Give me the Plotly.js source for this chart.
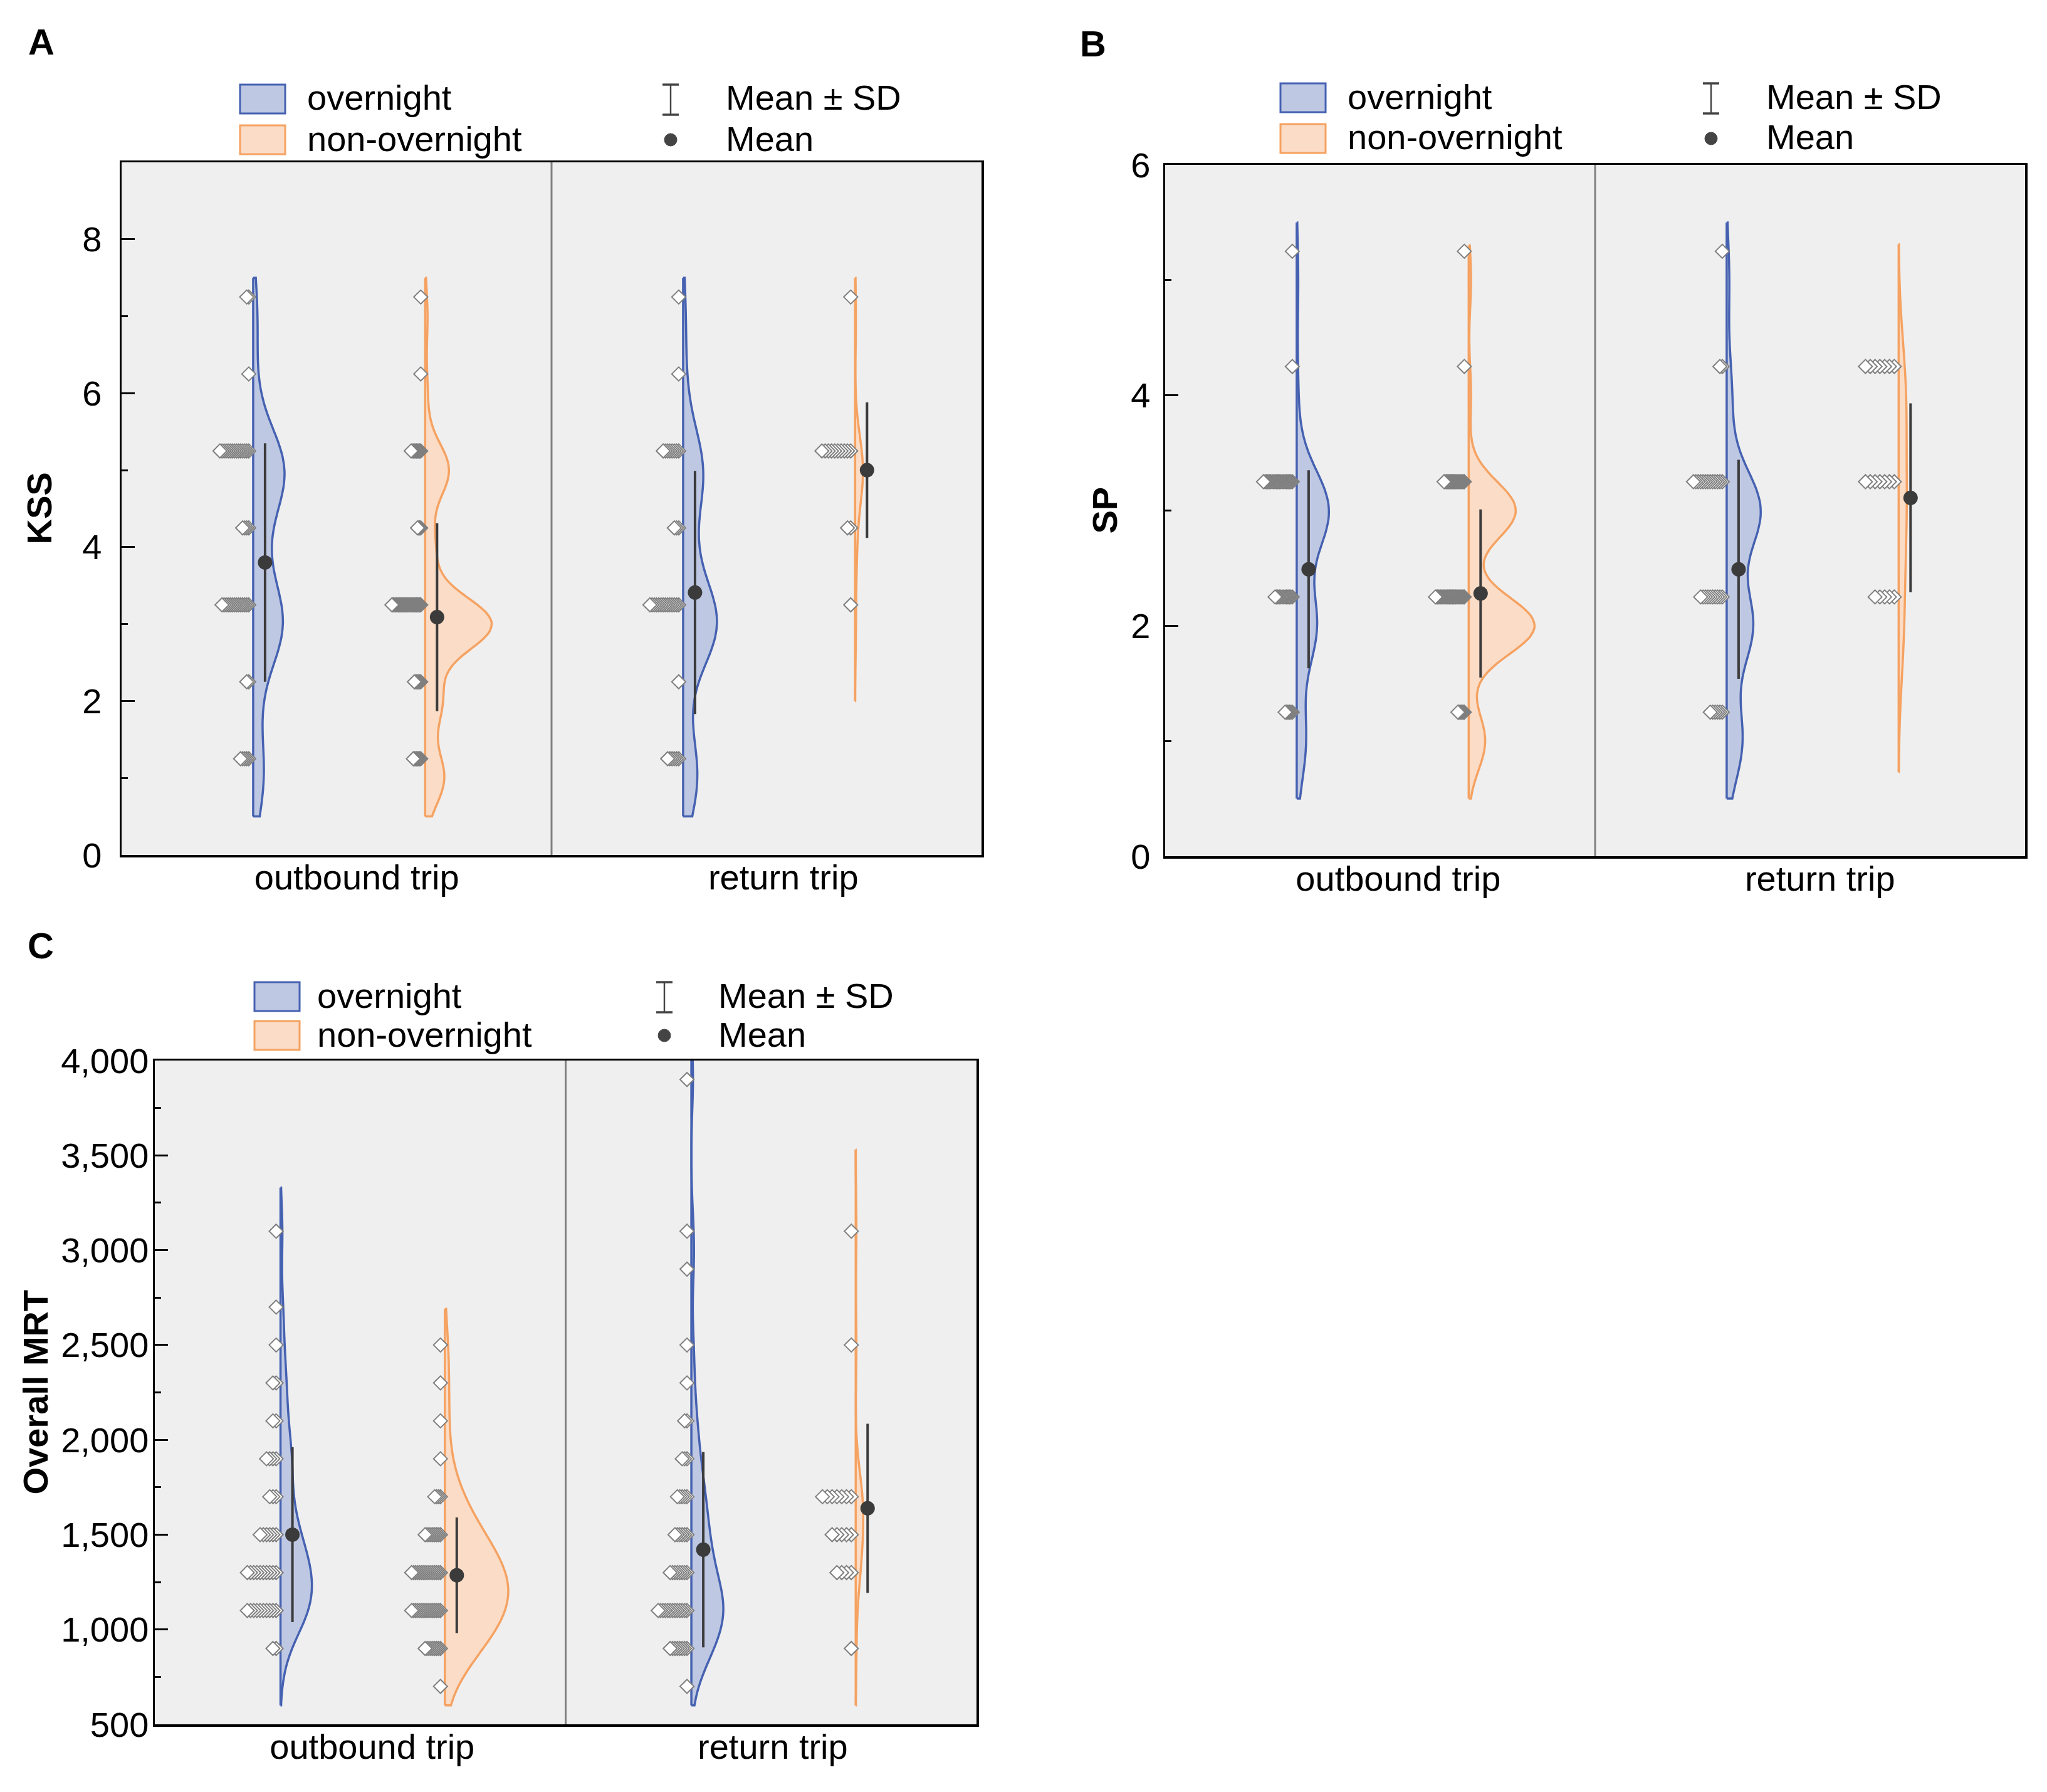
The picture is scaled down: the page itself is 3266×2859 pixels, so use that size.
<!DOCTYPE html>
<html>
<head>
<meta charset="utf-8">
<script src="https://cdn.plot.ly/plotly-3.0.1.min.js"></script>
<style>
html, body { margin:0; padding:0; background:#ffffff; }
#chart { width:3266px; height:2859px; }
</style>
</head>
<body>
<div id="chart"></div>
<script>
// ================= DATA =================
const tripLabels = ['outbound trip', 'return trip'];
const groupLabels = ['overnight', 'non-overnight'];
// cell order in every panel: overnight outbound, non-overnight outbound, overnight return, non-overnight return

// KSS
const kssScores = [1, 2, 3, 4, 5, 6, 7];
const kssBinCenters = [1.25, 2.25, 3.25, 4.25, 5.25, 6.25, 7.25];
const kssOvernightOutbound = [5, 2, 14, 4, 15, 1, 2];
const kssNonOvernightOutbound = [8, 7, 28, 4, 10, 1, 1];
const kssOvernightReturn = [6, 1, 14, 3, 8, 1, 1];
const kssNonOvernightReturn = [0, 0, 1, 2, 10, 0, 1];
const kssMeans = [3.80, 3.09, 3.41, 5.00];
const kssSDs = [1.55, 1.22, 1.58, 0.88];
const kssKdeLow = [0.5, 0.5, 0.5, 2.0];
const kssKdeHigh = [7.5, 7.5, 7.5, 7.5];

// SP
const spScores = [1, 2, 3, 4, 5];
const spBinCenters = [1.25, 2.25, 3.25, 4.25, 5.25];
const spOvernightOutbound = [6, 13, 21, 1, 1];
const spNonOvernightOutbound = [7, 28, 20, 1, 1];
const spOvernightReturn = [6, 10, 13, 2, 1];
const spNonOvernightReturn = [0, 5, 7, 7, 0];
const spMeans = [2.49, 2.28, 2.49, 3.11];
const spSDs = [0.86, 0.73, 0.95, 0.82];
const spKdeLow = [0.5, 0.5, 0.5, 0.73];
const spKdeHigh = [5.5, 5.3, 5.5, 5.31];

// Overall MRT
const mrtBins = [700, 900, 1100, 1300, 1500, 1700, 1900, 2100, 2300, 2500, 2700, 2900, 3100, 3300, 3500, 3700, 3900];
const mrtOvernightOutbound    = [0, 2, 10, 10, 6, 3, 4, 2, 2, 1, 1, 0, 1, 0, 0, 0, 0];
const mrtNonOvernightOutbound = [1, 9, 16, 16, 9, 4, 1, 1, 1, 1, 0, 0, 0, 0, 0, 0, 0];
const mrtOvernightReturn      = [1, 8, 13, 8, 6, 5, 3, 2, 1, 1, 0, 1, 1, 0, 0, 0, 1];
const mrtNonOvernightReturn   = [0, 1, 0, 4, 5, 7, 0, 0, 0, 1, 0, 0, 1, 0, 0, 0, 0];
const mrtMeans = [1500, 1286, 1421, 1639];
const mrtSDs = [461, 305, 515, 446];
const mrtKdeLow = [600, 600, 600, 600];
const mrtKdeHigh = [3330, 2690, 4300, 3530];

// ================= STYLE =================
const FIG_W = 3266, FIG_H = 2859;
const FONT = '"Liberation Sans", Arial, Helvetica, sans-serif';
const LINE_COL = ['#4561b1', '#f5a262'];
const FILL_COL = ['#bfc8e2', '#fbdcc6'];
const POINT_LINE = '#7f7f7f';
const MEAN_COL = '#3b3b3b';
const CAT_CENTERS = [0.5, 1.5];
const GROUP_OFFSETS = [-0.194, 0.206];
const STACK_START_PX = 7;
const STACK_SPAN_PX = 46;
const MEAN_OFFSET_PX = 19;

const panels = [
  { letter:'A', yTitle:'KSS', left:194, right:1566, top:259, bottom:1364,
    yRange:[0, 9], dtick:2, minorDtick:1, sepThousands:false,
    scores:kssScores, bins:kssBinCenters,
    counts:[kssOvernightOutbound, kssNonOvernightOutbound, kssOvernightReturn, kssNonOvernightReturn],
    means:kssMeans, sds:kssSDs, kdeLow:kssKdeLow, kdeHigh:kssKdeHigh,
    bandwidth:[0.55, 0.35, 0.55, 0.45], halfWidthPx:[50, 106, 54, 12.5],
    tickvals:[0.547, 1.539], labelStandoff:17, titleX:62, letterXY:[66, 66],
    legend:{patchX:383, textX:488, iconX:1070, text2X:1156, row1Y:156, row2Y:221} },
  { letter:'B', yTitle:'SP', left:1859, right:3231, top:263, bottom:1366,
    yRange:[0, 6], dtick:2, minorDtick:1, sepThousands:false,
    scores:spScores, bins:spBinCenters,
    counts:[spOvernightOutbound, spNonOvernightOutbound, spOvernightReturn, spNonOvernightReturn],
    means:spMeans, sds:spSDs, kdeLow:spKdeLow, kdeHigh:spKdeHigh,
    bandwidth:[0.35, 0.25, 0.35, 0.5], halfWidthPx:[51, 105, 54, 13],
    tickvals:[0.542, 1.523], labelStandoff:9, titleX:1762, letterXY:[1744, 69],
    legend:{patchX:2043, textX:2148, iconX:2730, text2X:2816, row1Y:154, row2Y:219} },
  { letter:'C', yTitle:'Overall MRT', left:247, right:1558, top:1692, bottom:2751,
    yRange:[500, 4000], dtick:500, minorDtick:250, sepThousands:true,
    scores:mrtBins, bins:mrtBins,
    counts:[mrtOvernightOutbound, mrtNonOvernightOutbound, mrtOvernightReturn, mrtNonOvernightReturn],
    means:mrtMeans, sds:mrtSDs, kdeLow:mrtKdeLow, kdeHigh:mrtKdeHigh,
    bandwidth:[150, 170, 150, 170], halfWidthPx:[50, 101, 51, 12],
    tickvals:[0.529, 1.504], labelStandoff:-5, titleX:56, letterXY:[65, 1508],
    legend:{patchX:406, textX:504, iconX:1060, text2X:1144, row1Y:1588, row2Y:1650} }
];

// ================= BUILD =================
const px2x = v => v / FIG_W;
const px2y = v => 1 - v / FIG_H;

function expand(values, counts) {
  const out = [];
  values.forEach((v, i) => { for (let k = 0; k < counts[i]; k++) out.push(v); });
  return out;
}

const traces = [];
const shapes = [];
const annotations = [];
const layout = {
  width: FIG_W, height: FIG_H,
  margin: { l:0, r:0, t:0, b:0 },
  paper_bgcolor: '#ffffff',
  plot_bgcolor: '#efefef',
  showlegend: false,
  violinmode: 'overlay',
  font: { family: FONT, size: 56, color: '#000000' },
  hovermode: false
};

panels.forEach((p, pi) => {
  const sfx = pi === 0 ? '' : String(pi + 1);
  const xa = 'x' + sfx, ya = 'y' + sfx;
  const pxPerUnit = (p.right - p.left) / 2;

  layout['xaxis' + sfx] = {
    domain: [px2x(p.left), px2x(p.right)], range: [0, 2], anchor: ya,
    showgrid: false, zeroline: false, ticks: '',
    tickvals: p.tickvals, ticktext: tripLabels,
    tickfont: { size: 56, family: FONT, color: '#000' },
    ticklabelstandoff: -16,
    showline: true, mirror: true, linecolor: '#000', linewidth: 3.5, fixedrange: true
  };
  layout['yaxis' + sfx] = {
    domain: [px2y(p.bottom), px2y(p.top)], range: p.yRange, anchor: xa,
    showgrid: false, zeroline: false,
    ticks: 'inside', ticklen: 21, tickwidth: 3, tickcolor: '#000',
    tick0: 0, dtick: p.dtick,
    minor: { ticks: 'inside', ticklen: 10, tickwidth: 3, tickcolor: '#000', tick0: 0, dtick: p.minorDtick, showgrid: false },
    tickfont: { size: 56, family: FONT, color: '#000' },
    ticklabelstandoff: p.labelStandoff,
    separatethousands: p.sepThousands,
    showline: true, mirror: true, linecolor: '#000', linewidth: 3.5, fixedrange: true
  };

  // divider between trips
  shapes.push({ type:'line', xref: xa, yref: ya + ' domain', x0: 1, x1: 1, y0: 0, y1: 1,
                line: { color: '#808080', width: 3 } });

  const meanX = [];
  for (let c = 0; c < 4; c++) {
    const trip = Math.floor(c / 2), grp = c % 2;
    const base = CAT_CENTERS[trip] + GROUP_OFFSETS[grp];
    const counts = p.counts[c];

    // half violin (KDE computed by plotly)
    traces.push({
      type: 'violin', xaxis: xa, yaxis: ya, name: groupLabels[grp] + ' ' + tripLabels[trip],
      x0: base, y: expand(p.scores, counts), orientation: 'v', side: 'positive',
      width: 2 * p.halfWidthPx[c] / pxPerUnit, scalemode: 'width', scalegroup: p.letter + c,
      spanmode: 'manual', span: [p.kdeLow[c], p.kdeHigh[c]], bandwidth: p.bandwidth[c],
      points: false, box: { visible: false }, meanline: { visible: false },
      line: { color: LINE_COL[grp], width: 3.5 }, fillcolor: FILL_COL[grp],
      hoverinfo: 'skip', showlegend: false
    });
    // base line of the half violin
    traces.push({
      type: 'scatter', mode: 'lines', xaxis: xa, yaxis: ya,
      x: [base, base], y: [p.kdeLow[c], p.kdeHigh[c]],
      line: { color: LINE_COL[grp], width: 3.5 }, hoverinfo: 'skip', showlegend: false
    });
    meanX.push(base + MEAN_OFFSET_PX / pxPerUnit);
  }

  // stacked data points (binned), leftmost drawn last
  for (let c = 0; c < 4; c++) {
    const trip = Math.floor(c / 2), grp = c % 2;
    const base = CAT_CENTERS[trip] + GROUP_OFFSETS[grp];
    const counts = p.counts[c];
    const nMax = Math.max(...counts);
    const step = nMax > 1 ? STACK_SPAN_PX / (nMax - 1) : 0;
    const xs = [], ys = [];
    p.bins.forEach((b, i) => {
      for (let k = 0; k < counts[i]; k++) {
        xs.push(base - (STACK_START_PX + k * step) / pxPerUnit);
        ys.push(b);
      }
    });
    traces.push({
      type: 'scatter', mode: 'markers', xaxis: xa, yaxis: ya, x: xs, y: ys,
      marker: { symbol: 'diamond', size: 17, color: '#ffffff', line: { color: POINT_LINE, width: 2 } },
      hoverinfo: 'skip', showlegend: false
    });
  }

  // mean ± SD
  traces.push({
    type: 'scatter', mode: 'markers', xaxis: xa, yaxis: ya, x: meanX, y: p.means,
    marker: { symbol: 'circle', size: 23, color: MEAN_COL },
    error_y: { type: 'data', array: p.sds, visible: true, color: MEAN_COL, thickness: 4, width: 0 },
    hoverinfo: 'skip', showlegend: false
  });

  // y-axis title
  annotations.push({ xref:'paper', yref:'paper', x: px2x(p.titleX), y: px2y((p.top + p.bottom) / 2),
    text: p.yTitle, textangle: -90, showarrow: false, xanchor: 'center', yanchor: 'middle',
    font: { family: FONT, size: 56, color: '#000', weight: 'bold' } });
  // panel letter
  annotations.push({ xref:'paper', yref:'paper', x: px2x(p.letterXY[0]), y: px2y(p.letterXY[1]),
    text: p.letter, showarrow: false, xanchor: 'center', yanchor: 'middle',
    font: { family: FONT, size: 58, color: '#000', weight: 'bold' } });

  // legend (patches, error-bar icon, dot, labels)
  const L = p.legend;
  const patchW = 72, patchH = 46;
  [L.row1Y, L.row2Y].forEach((ry, gi) => {
    shapes.push({ type:'rect', xref:'paper', yref:'paper',
      x0: px2x(L.patchX), x1: px2x(L.patchX + patchW), y0: px2y(ry - patchH / 2 + 2), y1: px2y(ry + patchH / 2 + 2),
      fillcolor: FILL_COL[gi], line: { color: LINE_COL[gi], width: 3 } });
    annotations.push({ xref:'paper', yref:'paper', x: px2x(L.textX), y: px2y(ry),
      text: groupLabels[gi], showarrow: false, xanchor: 'left', yanchor: 'middle',
      font: { family: FONT, size: 56, color: '#000' } });
  });
  const iy0 = L.row1Y - 21, iy1 = L.row1Y + 27;
  shapes.push({ type:'line', xref:'paper', yref:'paper', x0: px2x(L.iconX), x1: px2x(L.iconX), y0: px2y(iy0), y1: px2y(iy1), line:{ color:'#444', width:2.5 } });
  shapes.push({ type:'line', xref:'paper', yref:'paper', x0: px2x(L.iconX - 13), x1: px2x(L.iconX + 13), y0: px2y(iy0), y1: px2y(iy0), line:{ color:'#444', width:3.5 } });
  shapes.push({ type:'line', xref:'paper', yref:'paper', x0: px2x(L.iconX - 13), x1: px2x(L.iconX + 13), y0: px2y(iy1), y1: px2y(iy1), line:{ color:'#444', width:3.5 } });
  shapes.push({ type:'circle', xref:'paper', yref:'paper', x0: px2x(L.iconX - 10), x1: px2x(L.iconX + 10), y0: px2y(L.row2Y - 8), y1: px2y(L.row2Y + 12), fillcolor:'#444', line:{ color:'#444', width:1 } });
  annotations.push({ xref:'paper', yref:'paper', x: px2x(L.text2X), y: px2y(L.row1Y), text: 'Mean ± SD',
    showarrow:false, xanchor:'left', yanchor:'middle', font:{ family: FONT, size: 56, color:'#000' } });
  annotations.push({ xref:'paper', yref:'paper', x: px2x(L.text2X), y: px2y(L.row2Y), text: 'Mean',
    showarrow:false, xanchor:'left', yanchor:'middle', font:{ family: FONT, size: 56, color:'#000' } });
});

layout.shapes = shapes;
layout.annotations = annotations;

Plotly.newPlot('chart', traces, layout, { displayModeBar: false, staticPlot: true });
</script>
</body>
</html>
